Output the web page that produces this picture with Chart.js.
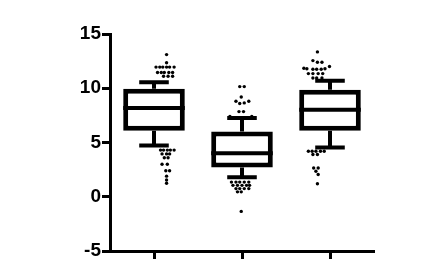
<!DOCTYPE html>
<html lang="en">
<head>
    <meta charset="UTF-8">
    <title>Box plot</title>
    <script src="https://cdn.jsdelivr.net/npm/chart.js"></script>
    <style>
        body {
            margin: 0;
            background-color: white;
        }
        .chart-container {
            width: 436px;
            height: 273px;
        }
    </style>
</head>
<body>
    <div class="chart-container">
        <canvas id="boxChart"></canvas>
    </div>

    <script>
        const grupos = ['Grupo 1', 'Grupo 2', 'Grupo 3'];
        const yTicks = [-5, 0, 5, 10, 15];

        // cuartiles (bordes exteriores de la caja), mediana y bigotes
        const q1 = [6.08, 2.69, 6.08];
        const q3 = [9.96, 6.02, 9.87];
        const medianas = [8.18, 4.02, 8.02];
        const bigoteBajo = [4.72, 1.80, 4.54];
        const bigoteAlto = [10.56, 7.26, 10.70];

        // valores atípicos: [desplazamiento horizontal, valor]
        const atipicos1 = [
            [0.00, 13.1], [0.00, 12.35],
            [-0.14, 11.95], [-0.09, 11.95], [-0.05, 11.95], [0.00, 11.95], [0.04, 11.95], [0.10, 11.95],
            [-0.12, 11.45], [-0.07, 11.45], [-0.03, 11.45], [0.03, 11.45], [0.08, 11.45],
            [-0.04, 11.1], [0.02, 11.1], [0.08, 11.1],
            [-0.08, 4.3], [-0.04, 4.3], [0.01, 4.3], [0.05, 4.3], [0.10, 4.3],
            [-0.06, 3.95], [0.00, 3.95], [0.04, 3.95],
            [-0.03, 3.6], [0.02, 3.6],
            [-0.06, 3.0], [0.01, 3.0],
            [-0.01, 2.4], [0.04, 2.4],
            [0.00, 1.9], [0.00, 1.55], [0.00, 1.25]
        ];
        const atipicos2 = [
            [-0.03, 10.15], [0.03, 10.15], [-0.01, 9.2],
            [-0.08, 8.8], [-0.03, 8.6], [0.03, 8.65], [0.09, 8.8],
            [-0.04, 7.85], [0.02, 7.85],
            [-0.16, 7.4], [0.13, 7.4],
            [-0.14, 1.35], [-0.08, 1.35], [-0.03, 1.35], [0.03, 1.35], [0.09, 1.35],
            [-0.12, 1.05], [-0.06, 1.05], [0.00, 1.05], [0.06, 1.05], [0.10, 1.05],
            [-0.08, 0.75], [-0.03, 0.75], [0.03, 0.75], [0.09, 0.75],
            [-0.06, 0.45], [-0.01, 0.45],
            [-0.01, -1.35]
        ];
        const atipicos3 = [
            [0.00, 13.35], [-0.06, 12.55], [0.00, 12.4], [0.06, 12.4],
            [-0.18, 11.85], [-0.14, 11.8], [-0.06, 11.75], [-0.01, 11.75], [0.05, 11.75], [0.10, 11.8], [0.16, 12.0],
            [-0.12, 11.35], [-0.06, 11.35], [0.01, 11.35], [0.07, 11.35],
            [-0.06, 10.95], [-0.01, 10.95], [0.06, 10.95],
            [-0.12, 4.2], [-0.07, 4.2], [-0.02, 4.2], [0.04, 4.2], [0.09, 4.2],
            [-0.06, 3.9], [0.00, 3.9],
            [-0.05, 2.65], [0.01, 2.65], [-0.02, 2.35], [0.01, 2.05], [0.00, 1.2]
        ];

        const puntos = [];
        [atipicos1, atipicos2, atipicos3].forEach((lista, i) => {
            lista.forEach(p => puntos.push({ x: i + 1 + p[0], y: p[1] }));
        });

        // mediana y bigotes dibujados con las escalas del gráfico
        const bigotesPlugin = {
            id: 'bigotes',
            afterDatasetDraw(chart, args) {
                if (args.meta.type !== 'bar') return;
                const ctx = chart.ctx;
                const y = chart.scales.y;
                ctx.save();
                ctx.strokeStyle = '#000';
                ctx.lineWidth = 4;
                ctx.lineCap = 'butt';
                args.meta.data.forEach((bar, i) => {
                    const half = bar.width / 2;
                    const cap = bar.width * 0.24;
                    const yMed = y.getPixelForValue(medianas[i]);
                    const yQ1 = y.getPixelForValue(q1[i]);
                    const yQ3 = y.getPixelForValue(q3[i]);
                    const yLo = y.getPixelForValue(bigoteBajo[i]);
                    const yHi = y.getPixelForValue(bigoteAlto[i]);
                    ctx.beginPath();
                    ctx.moveTo(bar.x - half, yMed);
                    ctx.lineTo(bar.x + half, yMed);
                    ctx.moveTo(bar.x, yQ3);
                    ctx.lineTo(bar.x, yHi);
                    ctx.moveTo(bar.x - cap, yHi);
                    ctx.lineTo(bar.x + cap, yHi);
                    ctx.moveTo(bar.x, yQ1);
                    ctx.lineTo(bar.x, yLo);
                    ctx.moveTo(bar.x - cap, yLo);
                    ctx.lineTo(bar.x + cap, yLo);
                    ctx.stroke();
                });
                ctx.restore();
            }
        };

        const ctx = document.getElementById('boxChart').getContext('2d');
        new Chart(ctx, {
            type: 'bar',
            data: {
                labels: grupos,
                datasets: [{
                    type: 'bar',
                    data: q1.map((v, i) => [v, q3[i]]),
                    backgroundColor: '#fff',
                    borderColor: '#000',
                    borderWidth: 5,
                    borderSkipped: false,
                    grouped: false,
                    barPercentage: 0.7,
                    categoryPercentage: 1.0,
                    order: 2
                }, {
                    type: 'scatter',
                    data: puntos,
                    xAxisID: 'x2',
                    pointRadius: 1.7,
                    pointBackgroundColor: '#000',
                    pointBorderWidth: 0,
                    order: 1
                }]
            },
            plugins: [bigotesPlugin],
            options: {
                responsive: true,
                maintainAspectRatio: false,
                animation: false,
                layout: {
                    padding: { left: 0, right: 62, top: 34, bottom: 0 }
                },
                plugins: {
                    legend: { display: false },
                    tooltip: { enabled: false }
                },
                scales: {
                    x: {
                        offset: true,
                        afterFit: scale => { scale.height = 22; },
                        border: { display: true, color: '#000', width: 3 },
                        grid: {
                            offset: false,
                            drawOnChartArea: false,
                            drawTicks: true,
                            tickLength: 8,
                            tickWidth: 3,
                            tickColor: '#000'
                        },
                        ticks: { display: false }
                    },
                    x2: {
                        type: 'linear',
                        min: 0.5,
                        max: 3.5,
                        display: false
                    },
                    y: {
                        min: -5,
                        max: 15,
                        afterFit: scale => { scale.width = 110; },
                        afterBuildTicks: scale => {
                            scale.ticks = yTicks.map(v => ({ value: v }));
                        },
                        border: { display: true, color: '#000', width: 3 },
                        grid: {
                            drawOnChartArea: false,
                            drawTicks: true,
                            tickLength: 8,
                            tickWidth: 3,
                            tickColor: '#000'
                        },
                        ticks: {
                            color: '#000',
                            padding: 1,
                            font: { family: 'Liberation Sans', size: 19, weight: 'bold' }
                        }
                    }
                }
            }
        });
    </script>
</body>
</html>
